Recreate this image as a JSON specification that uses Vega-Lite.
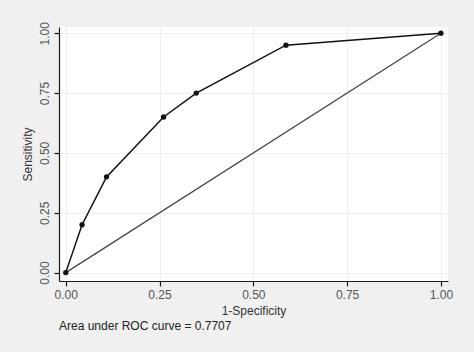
{
  "$schema": "https://vega.github.io/schema/vega-lite/v6.json",
  "width": 389,
  "height": 254,
  "autosize": {"type": "none"},
  "padding": {"left": 59, "top": 27, "right": 26, "bottom": 71},
  "background": "#f0f0f0",
  "config": {
    "font": "Liberation Sans",
    "view": {"fill": "white", "stroke": null},
    "axis": {
      "labelFont": "Liberation Sans",
      "titleFont": "Liberation Sans",
      "labelFontSize": 12,
      "titleFontSize": 12,
      "titleFontWeight": "normal",
      "labelColor": "#555555",
      "titleColor": "#333333",
      "domainColor": "#1a1a1a",
      "domainWidth": 1.2,
      "tickColor": "#1a1a1a",
      "tickWidth": 1.2,
      "tickSize": 5,
      "gridColor": "#efefef",
      "gridWidth": 1
    }
  },
  "title": {
    "text": "Area under ROC curve = 0.7707",
    "orient": "bottom",
    "anchor": "start",
    "frame": "group",
    "fontSize": 12,
    "fontWeight": "normal",
    "font": "Liberation Sans",
    "color": "#222222",
    "offset": 5
  },
  "datasets": {
    "roc": [
      {"fpr": 0, "sens": 0},
      {"fpr": 0.0435, "sens": 0.2},
      {"fpr": 0.1087, "sens": 0.4},
      {"fpr": 0.2609, "sens": 0.65},
      {"fpr": 0.3478, "sens": 0.75},
      {"fpr": 0.587, "sens": 0.95},
      {"fpr": 1, "sens": 1}
    ],
    "diag": [
      {"fpr": 0, "sens": 0},
      {"fpr": 1, "sens": 1}
    ]
  },
  "encoding": {
    "x": {
      "field": "fpr",
      "type": "quantitative",
      "scale": {"domain": [-0.018, 1.019], "nice": false, "zero": false},
      "axis": {
        "values": [0, 0.25, 0.5, 0.75, 1],
        "format": ".2f",
        "title": "1-Specificity",
        "labelPadding": 3,
        "titlePadding": 5
      }
    },
    "y": {
      "field": "sens",
      "type": "quantitative",
      "scale": {"domain": [-0.035, 1.026], "nice": false, "zero": false},
      "axis": {
        "values": [0, 0.25, 0.5, 0.75, 1],
        "format": ".2f",
        "title": "Sensitivity",
        "labelAngle": -90,
        "labelAlign": "center",
        "labelBaseline": "bottom",
        "labelPadding": 3,
        "titlePadding": 4
      }
    }
  },
  "layer": [
    {
      "data": {"name": "diag"},
      "mark": {"type": "line", "color": "#444444", "strokeWidth": 1.2}
    },
    {
      "data": {"name": "roc"},
      "mark": {
        "type": "line",
        "color": "#111111",
        "strokeWidth": 1.5,
        "point": {"filled": true, "size": 28, "color": "#111111"}
      }
    }
  ]
}
